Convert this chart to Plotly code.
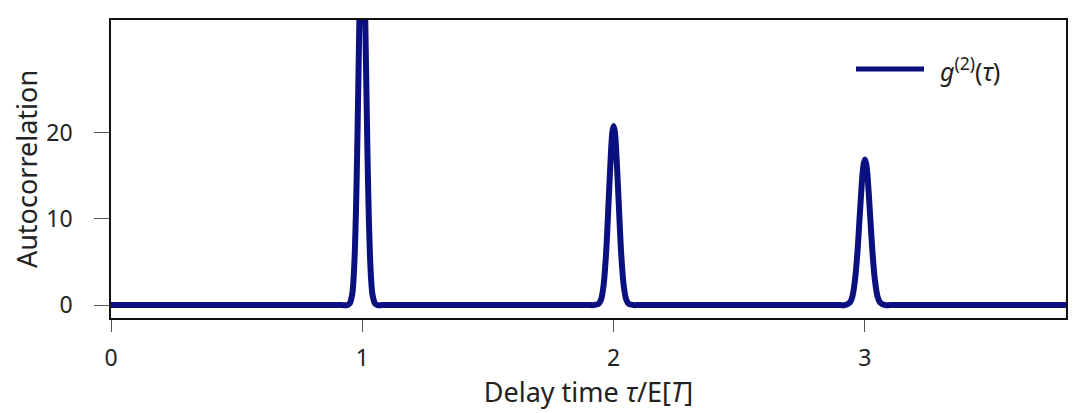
import plotly.graph_objects as go

# Values (delay time in units of E[T], autocorrelation g2)
tau = [0.0, 0.90, 0.92,
       0.94, 0.95, 0.96, 0.965, 0.97, 0.975, 0.98, 0.985, 0.99, 0.995, 1.0,
       1.005, 1.01, 1.015, 1.02, 1.025, 1.03, 1.035, 1.04, 1.05, 1.06,
       1.08, 1.90, 1.92, 1.94, 1.95, 1.96, 1.97, 1.98, 1.99, 1.995, 2.0,
       2.005, 2.01, 2.02, 2.03, 2.04, 2.05, 2.06, 2.08,
       2.10, 2.90, 2.92, 2.94, 2.95, 2.96, 2.97, 2.98, 2.99, 2.995, 3.0,
       3.005, 3.01, 3.02, 3.03, 3.04, 3.05, 3.06, 3.08,
       3.10, 3.8]
g2 = [0.0, 0.0, 0.0,
      0.0, 0.2, 1.3, 3.0, 6.1, 11.2, 18.5, 27.3, 36.0, 42.6, 45.0,
      42.6, 36.0, 27.3, 18.5, 11.2, 6.1, 3.0, 1.3, 0.2, 0.0,
      0.0, 0.0, 0.0, 0.14, 0.65, 2.3, 6.0, 12.0, 18.1, 20.1, 20.8,
      20.1, 18.1, 12.0, 6.0, 2.3, 0.65, 0.14, 0.0,
      0.0, 0.0, 0.0, 0.3, 1.0, 2.8, 6.1, 10.7, 15.1, 16.4, 16.9,
      16.4, 15.1, 10.7, 6.1, 2.8, 1.0, 0.3, 0.0,
      0.0, 0.0]

x_ticks = [0, 1, 2, 3]
y_ticks = [0, 10, 20]
x_range = [0, 3.8]
y_range = [-1.5, 33.1]

LINE = "#0b1080"
FONT = "Noto Sans"
TXT = "#222222"

W, H = 1072, 405
L, R, T, B = 103, 14, 12, 95
PW, PH = W - L - R, H - T - B

fig = go.Figure()
fig.add_trace(go.Scatter(x=tau, y=g2, mode="lines",
                         line=dict(color=LINE, width=6, shape="spline", smoothing=0.8),
                         showlegend=False))

fig.update_layout(
    width=W, height=H,
    margin=dict(l=L, r=R, t=T, b=B),
    paper_bgcolor="white", plot_bgcolor="white",
    font=dict(family=FONT, color=TXT, size=23),
)
fig.update_xaxes(range=x_range, tickvals=x_ticks, ticks="outside", ticklen=12,
                 tickcolor="#555", tickwidth=1.2, ticklabelstandoff=7,
                 showline=True, linecolor="#111", linewidth=1.5, mirror=True,
                 showgrid=False, zeroline=False, automargin=False,
                 tickfont=dict(size=23, family=FONT, color=TXT),
                 title=dict(text="Delay time <i>τ</i>/E[<i>T</i>]",
                            font=dict(size=27, family=FONT, color=TXT), standoff=6))
fig.update_yaxes(range=y_range, tickvals=y_ticks, ticks="outside", ticklen=15,
                 tickcolor="#555", tickwidth=1.2, ticklabelstandoff=17,
                 showline=True, linecolor="#111", linewidth=1.5, mirror=True,
                 showgrid=False, zeroline=False, automargin=False,
                 tickfont=dict(size=23, family=FONT, color=TXT),
                 title=dict(text="Autocorrelation",
                            font=dict(size=27, family=FONT, color=TXT), standoff=12))

# Legend drawn manually to match the long legend line
ly = (318 - 69) / 298
fig.add_shape(type="line", xref="paper", yref="paper",
              x0=(856 - 111) / PW, x1=(924 - 111) / PW,
              y0=ly, y1=ly,
              line=dict(color=LINE, width=5))
fig.add_annotation(xref="paper", yref="paper",
                   x=(938 - 111) / PW, y=ly,
                   xanchor="left", yanchor="middle", showarrow=False,
                   text="<i>g</i><sup>(2)</sup>(<i>τ</i>)",
                   font=dict(size=25, family=FONT, color=TXT))

fig.write_html("out.html")
